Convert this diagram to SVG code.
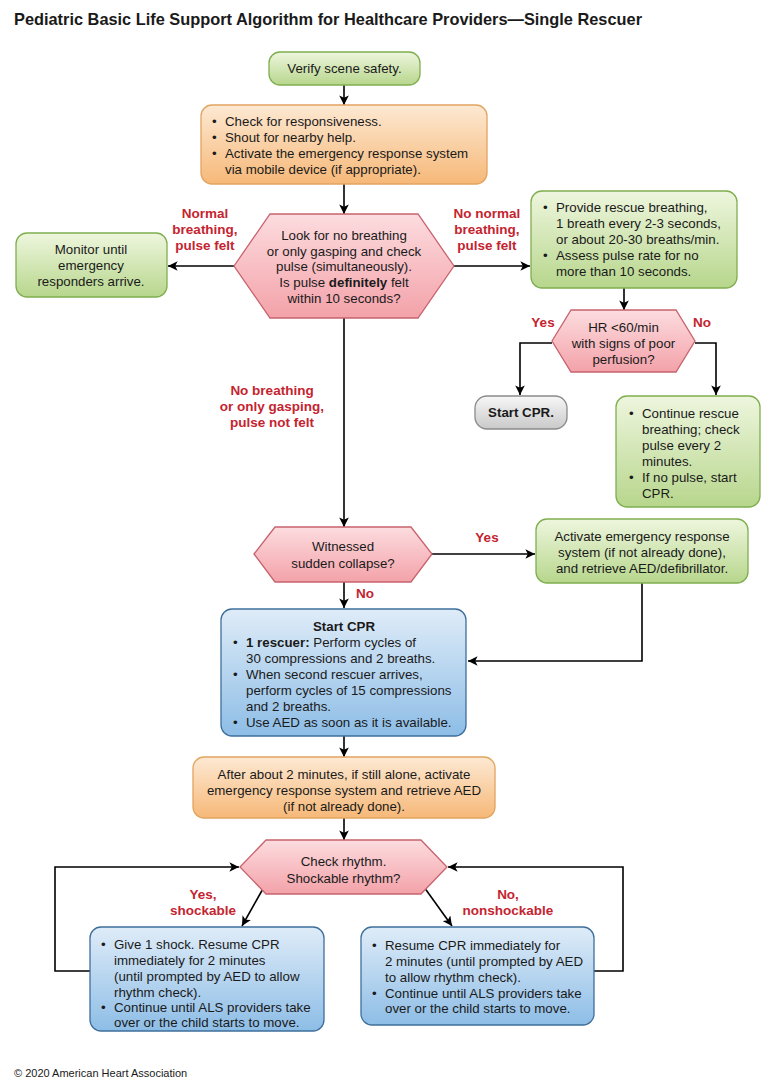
<svg xmlns="http://www.w3.org/2000/svg" width="775" height="1090" viewBox="0 0 775 1090">
<style>
text{font-family:"Liberation Sans",Arial,sans-serif;font-size:13.3px;fill:#1a1a1a}
.c{text-anchor:middle}
.lbl{font-weight:bold;fill:#c4242f;text-anchor:middle;font-size:13.5px}
.b{font-weight:bold}
.gr{fill:url(#gG);stroke:#7fae4f;stroke-width:1.3}
.or{fill:url(#gO);stroke:#e2a461;stroke-width:1.3}
.pk{fill:url(#gP);stroke:#c7636d;stroke-width:1.3}
.bl{fill:url(#gB);stroke:#3e6f9c;stroke-width:1.3}
.gy{fill:url(#gY);stroke:#8a8a8a;stroke-width:1.3}
.ln{fill:none;stroke:#000;stroke-width:1.6}
.ar{marker-end:url(#ah)}
</style>
<defs>
<linearGradient id="gG" x1="0" y1="0" x2="0" y2="1"><stop offset="0" stop-color="#eef6de"/><stop offset="1" stop-color="#b7d68c"/></linearGradient>
<linearGradient id="gO" x1="0" y1="0" x2="0" y2="1"><stop offset="0" stop-color="#fde9d3"/><stop offset="1" stop-color="#f6b878"/></linearGradient>
<linearGradient id="gP" x1="0" y1="0" x2="0" y2="1"><stop offset="0" stop-color="#fcdcdf"/><stop offset="1" stop-color="#f3a2a9"/></linearGradient>
<linearGradient id="gB" x1="0" y1="0" x2="0" y2="1"><stop offset="0" stop-color="#dfecf8"/><stop offset="1" stop-color="#8dbde6"/></linearGradient>
<linearGradient id="gY" x1="0" y1="0" x2="0" y2="1"><stop offset="0" stop-color="#f7f7f7"/><stop offset="1" stop-color="#c9c9c9"/></linearGradient>
<marker id="ah" viewBox="0 0 10 10" refX="10" refY="5" markerWidth="6" markerHeight="6" markerUnits="strokeWidth" orient="auto"><path d="M0,0 L10,5 L0,10 L2.5,5 z" fill="#000"/></marker>
</defs>
<rect width="775" height="1090" fill="#fff"/>
<text x="14" y="25" class="b" style="font-size:17px" textLength="628" lengthAdjust="spacingAndGlyphs">Pediatric Basic Life Support Algorithm for Healthcare Providers—Single Rescuer</text>

<g id="connectors">
<path class="ln ar" d="M344,85 V105"/>
<path class="ln ar" d="M344,184 V214"/>
<path class="ln ar" d="M234,266 H168"/>
<path class="ln ar" d="M454,266 H530"/>
<path class="ln ar" d="M624,288 V310"/>
<path class="ln ar" d="M552,343 H520 V395"/>
<path class="ln ar" d="M695,343 H716 V395"/>
<path class="ln ar" d="M344,318 V527"/>
<path class="ln ar" d="M432,554 H535"/>
<path class="ln ar" d="M642,583 V661 H468"/>
<path class="ln ar" d="M344,582 V608"/>
<path class="ln ar" d="M344,736 V757"/>
<path class="ln ar" d="M344,818 V840"/>
<path class="ln ar" d="M264,887 L242,926"/>
<path class="ln ar" d="M424,887 L452,926"/>
<path class="ln ar" d="M90,971 H55 V867 H239"/>
<path class="ln ar" d="M594,971 H623 V867 H448"/>
<text class="lbl" x="205" y="218">Normal</text>
<text class="lbl" x="205" y="234">breathing,</text>
<text class="lbl" x="205" y="250">pulse felt</text>
<text class="lbl" x="487" y="218">No normal</text>
<text class="lbl" x="487" y="234">breathing,</text>
<text class="lbl" x="487" y="250">pulse felt</text>
<text class="lbl" x="543" y="327">Yes</text>
<text class="lbl" x="702" y="327">No</text>
<text class="lbl" x="272" y="395">No breathing</text>
<text class="lbl" x="272" y="411">or only gasping,</text>
<text class="lbl" x="272" y="427">pulse not felt</text>
<text class="lbl" x="487" y="542">Yes</text>
<text class="lbl" x="365" y="598">No</text>
<text class="lbl" x="203" y="899">Yes,</text>
<text class="lbl" x="203" y="915">shockable</text>
<text class="lbl" x="508" y="899">No,</text>
<text class="lbl" x="508" y="915">nonshockable</text>
</g>

<g id="n1">
<rect class="gr" x="269" y="52" width="151" height="33" rx="11"/>
<text class="c" x="344.5" y="73">Verify scene safety.</text>
</g>

<g id="n2">
<rect class="or" x="201" y="105" width="286" height="79" rx="11"/>
<text x="212" y="126">•</text><text x="225" y="126">Check for responsiveness.</text>
<text x="212" y="142">•</text><text x="225" y="142">Shout for nearby help.</text>
<text x="212" y="158">•</text><text x="225" y="158">Activate the emergency response system</text>
<text x="225" y="174">via mobile device (if appropriate).</text>
</g>

<g id="n3">
<polygon class="pk" points="234,266 270,214 418,214 454,266 418,318 270,318"/>
<text class="c" x="344" y="240">Look for no breathing</text>
<text class="c" x="344" y="256">or only gasping and check</text>
<text class="c" x="344" y="271">pulse (simultaneously).</text>
<text class="c" x="344" y="287">Is pulse <tspan class="b">definitely</tspan> felt</text>
<text class="c" x="344" y="303">within 10 seconds?</text>
</g>

<g id="n4">
<rect class="gr" x="16" y="233" width="151" height="64" rx="11"/>
<text class="c" x="91" y="254">Monitor until</text>
<text class="c" x="91" y="270">emergency</text>
<text class="c" x="91" y="286">responders arrive.</text>
</g>

<g id="n5">
<rect class="gr" x="531" y="191" width="206" height="97" rx="11"/>
<text x="543" y="212">•</text><text x="556" y="212">Provide rescue breathing,</text>
<text x="556" y="228">1 breath every 2-3 seconds,</text>
<text x="556" y="244">or about 20-30 breaths/min.</text>
<text x="543" y="260">•</text><text x="556" y="260">Assess pulse rate for no</text>
<text x="556" y="276">more than 10 seconds.</text>
</g>

<g id="n6">
<polygon class="pk" points="552,341 571,310 676,310 695,341 676,372 571,372"/>
<text class="c" x="623.5" y="332">HR &lt;60/min</text>
<text class="c" x="623.5" y="348">with signs of poor</text>
<text class="c" x="623.5" y="364">perfusion?</text>
</g>

<g id="n7">
<rect class="gy" x="475" y="396" width="92" height="33" rx="12"/>
<text class="c b" x="521" y="417">Start CPR.</text>
</g>

<g id="n8">
<rect class="gr" x="616" y="396" width="144" height="111" rx="11"/>
<text x="629" y="418">•</text><text x="642" y="418">Continue rescue</text>
<text x="642" y="434">breathing; check</text>
<text x="642" y="450">pulse every 2</text>
<text x="642" y="466">minutes.</text>
<text x="629" y="482">•</text><text x="642" y="482">If no pulse, start</text>
<text x="642" y="498">CPR.</text>
</g>

<g id="n9">
<polygon class="pk" points="254,554 275,527 411,527 432,554 411,582 275,582"/>
<text class="c" x="343" y="551">Witnessed</text>
<text class="c" x="343" y="568">sudden collapse?</text>
</g>

<g id="n10">
<rect class="gr" x="536" y="519" width="212" height="64" rx="11"/>
<text class="c" x="642" y="541">Activate emergency response</text>
<text class="c" x="642" y="557">system (if not already done),</text>
<text class="c" x="642" y="573">and retrieve AED/defibrillator.</text>
</g>

<g id="n11">
<rect class="bl" x="221" y="609" width="245" height="127" rx="11"/>
<text class="c b" x="344" y="631">Start CPR</text>
<text x="233" y="647">•</text><text x="246" y="647"><tspan class="b">1 rescuer:</tspan> Perform cycles of</text>
<text x="246" y="663">30 compressions and 2 breaths.</text>
<text x="233" y="679">•</text><text x="246" y="679">When second rescuer arrives,</text>
<text x="246" y="695">perform cycles of 15 compressions</text>
<text x="246" y="711">and 2 breaths.</text>
<text x="233" y="727">•</text><text x="246" y="727">Use AED as soon as it is available.</text>
</g>

<g id="n12">
<rect class="or" x="193" y="757" width="302" height="61" rx="11"/>
<text class="c" x="344" y="779">After about 2 minutes, if still alone, activate</text>
<text class="c" x="344" y="795">emergency response system and retrieve AED</text>
<text class="c" x="344" y="811">(if not already done).</text>
</g>

<g id="n13">
<polygon class="pk" points="240,867 266,840 421,840 447,867 421,894 266,894"/>
<text class="c" x="343.5" y="866">Check rhythm.</text>
<text class="c" x="343.5" y="883">Shockable rhythm?</text>
</g>

<g id="n14">
<rect class="bl" x="90" y="927" width="234" height="104" rx="11"/>
<text x="101" y="949">•</text><text x="114" y="949">Give 1 shock. Resume CPR</text>
<text x="114" y="965">immediately for 2 minutes</text>
<text x="114" y="981">(until prompted by AED to allow</text>
<text x="114" y="997">rhythm check).</text>
<text x="101" y="1012">•</text><text x="114" y="1012">Continue until ALS providers take</text>
<text x="114" y="1027">over or the child starts to move.</text>
</g>

<g id="n15">
<rect class="bl" x="361" y="927" width="233" height="98" rx="11"/>
<text x="372" y="950">•</text><text x="385" y="950">Resume CPR immediately for</text>
<text x="385" y="966">2 minutes (until prompted by AED</text>
<text x="385" y="982">to allow rhythm check).</text>
<text x="372" y="998">•</text><text x="385" y="998">Continue until ALS providers take</text>
<text x="385" y="1013">over or the child starts to move.</text>
</g>

<text x="14" y="1077" style="font-size:11px">© 2020 American Heart Association</text>
</svg>
